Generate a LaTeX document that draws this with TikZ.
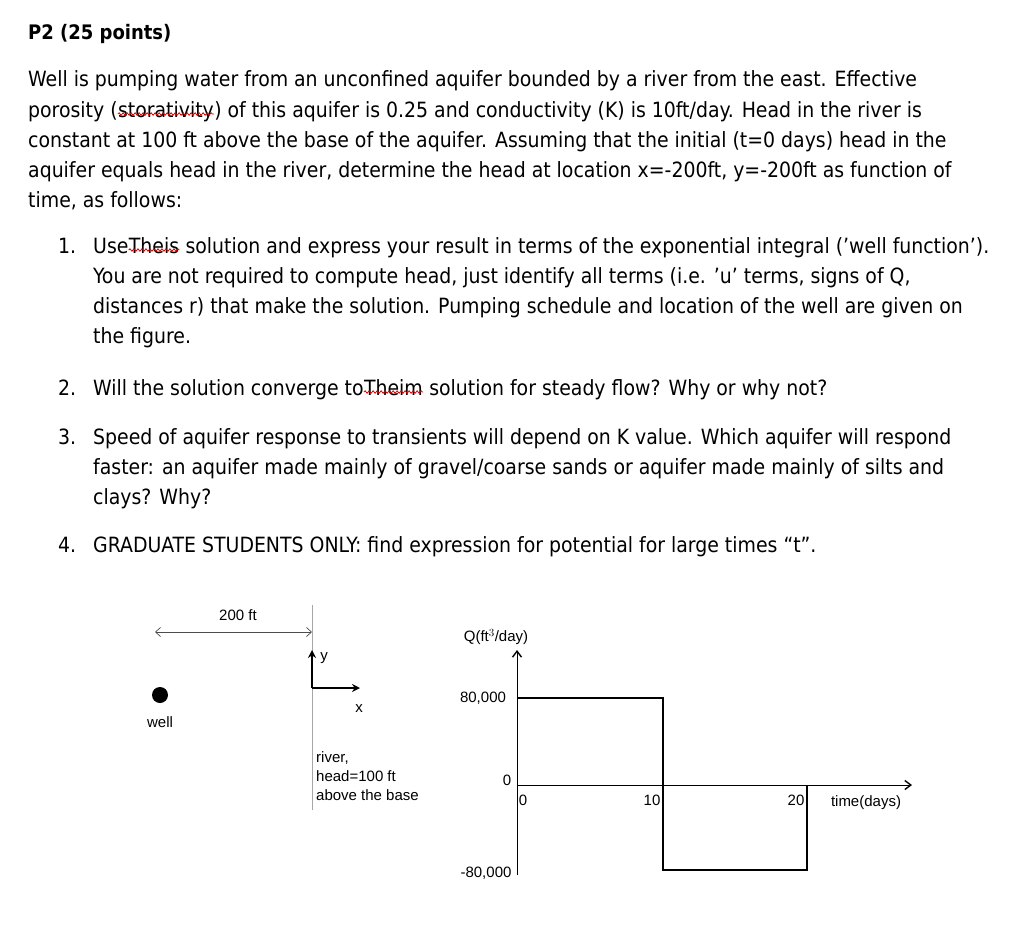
\documentclass[tikz,border=0pt]{standalone}
\usepackage{fontspec}
\setmainfont[Ligatures=ResetAll]{DejaVu Sans Condensed}
\newfontfamily\arialf{Liberation Sans}
\usetikzlibrary{arrows.meta,decorations.pathmorphing}
\begin{document}
\begin{tikzpicture}[x=1pt,y=-1pt,
  txt/.style={anchor=base west,inner sep=0pt,font=\fontsize{21}{24}\selectfont},
  lab/.style={inner sep=0pt,font=\arialf\fontsize{15}{17}\selectfont},
  squig/.style={red!85!black,line width=0.8pt,decorate,decoration={snake,amplitude=1.2pt,segment length=4pt}},
  graph/.style={line width=1.3pt}]
\useasboundingbox (0,0) rectangle (1028,934);
\fill[white] (0,0) rectangle (1028,934);
\node[txt,font=\bfseries\fontsize{20}{22}\selectfont] (t0) at (28,40) {P2 (25 points)};
\node[txt] (p1) at (28,87) {Well is pumping water from an unconfined aquifer bounded by a river from the east. Effective};
\node[txt] (p2a) at (28,117) {porosity (};
\node[txt] (p2b) at (p2a.base east) {storativity};
\node[txt] (p2c) at (p2b.base east) {) of this aquifer is 0.25 and conductivity (K) is 10ft/day. Head in the river is};
\node[txt] (p3) at (28,147) {constant at 100 ft above the base of the aquifer. Assuming that the initial (t=0 days) head in the};
\node[txt] (p4) at (28,177) {aquifer equals head in the river, determine the head at location x=-200ft, y=-200ft as function of};
\node[txt] (p5) at (28,207) {time, as follows:};
\node[txt] (n1) at (58,253) {1.};
\node[txt] (a1a) at (93,253) {Use\ };
\node[txt] (a1b) at (a1a.base east) {Theis};
\node[txt] (a1c) at (a1b.base east) {\ solution and express your result in terms of the exponential integral ('well function').};
\node[txt] (a2) at (93,283) {You are not required to compute head, just identify all terms (i.e. 'u' terms, signs of Q,};
\node[txt] (a3) at (93,313) {distances r) that make the solution. Pumping schedule and location of the well are given on};
\node[txt] (a4) at (93,343) {the figure.};
\node[txt] (n2) at (58,395) {2.};
\node[txt] (b1a) at (93,395) {Will the solution converge to\ };
\node[txt] (b1b) at (b1a.base east) {Theim};
\node[txt] (b1c) at (b1b.base east) {\ solution for steady flow? Why or why not?};
\node[txt] (n3) at (58,444) {3.};
\node[txt] (c1) at (93,444) {Speed of aquifer response to transients will depend on K value. Which aquifer will respond};
\node[txt] (c2) at (93,474) {faster: an aquifer made mainly of gravel/coarse sands or aquifer made mainly of silts and};
\node[txt] (c3) at (93,504) {clays? Why?};
\node[txt] (n4) at (58,552) {4.};
\node[txt] (d1) at (93,552) {GRADUATE STUDENTS ONLY: find expression for potential for large times “t”.};
\draw[squig] ([yshift=3pt]p2b.base west) -- ([yshift=3pt]p2b.base east);
\draw[squig] ([yshift=3pt]a1b.base west) -- ([yshift=3pt]a1b.base east);
\draw[squig] ([yshift=3pt]b1b.base west) -- ([yshift=3pt]b1b.base east);
% left sketch
\coordinate (ra) at (312,605);
\coordinate (rb) at (312,810);
\draw[gray!70,line width=0.6pt] (ra) -- (rb);
\coordinate (dl) at (155,632);
\coordinate (dr) at (312,632);
\draw[gray!60!black,line width=0.7pt,{Straight Barb[length=5pt,width=9pt]}-{Straight Barb[length=5pt,width=9pt]}] (dl) -- (dr);
\node[lab] (d200) at (238,615) {200 ft};
\coordinate (o) at (312,688);
\coordinate (oy) at (312,650);
\coordinate (ox) at (360,688);
\draw[line width=1.5pt,-{Stealth[length=8pt,width=8pt]}] (o) -- (oy);
\draw[line width=1.5pt,-{Stealth[length=8pt,width=8pt]}] (o) -- (ox);
\node[lab] (ly) at (324,658) {y};
\node[lab] (lx) at (359,709) {x};
\fill (160,695) circle (8);
\node[lab] (well) at (160,722) {well};
\node[lab,anchor=base west] (riv) at (316,762) {river,};
\node[lab,anchor=base west] (riv2) at (316,781) {head=100 ft};
\node[lab,anchor=base west] (riv3) at (316,800) {above the base};
% graph
\coordinate (gb) at (517,875);
\coordinate (gt) at (517,650);
\coordinate (g0) at (517,785);
\coordinate (gr) at (912,785);
\draw[line width=0.9pt,-{Straight Barb[length=6pt,width=9pt,line width=1.4pt]}] (gb) -- (gt);
\draw[line width=0.9pt,-{Straight Barb[length=6pt,width=9pt,line width=1.4pt]}] (g0) -- (gr);
\draw[graph] (517,698) -- (663,698) -- (663,870) -- (807,870) -- (807,785);
\node[lab] (qlab) at (496,637) {Q(ft$^3$/day)};
\node[lab] (l80) at (483,698) {80,000};
\node[lab] (l0) at (507,780) {0};
\node[lab] (lm80) at (486,873) {-80,000};
\node[lab] (t0l) at (523,800) {0};
\node[lab] (t10) at (652,800) {10};
\node[lab] (t20) at (796,800) {20};
\node[lab] (tl) at (866,803) {time(days)};
\end{tikzpicture}
\end{document}
